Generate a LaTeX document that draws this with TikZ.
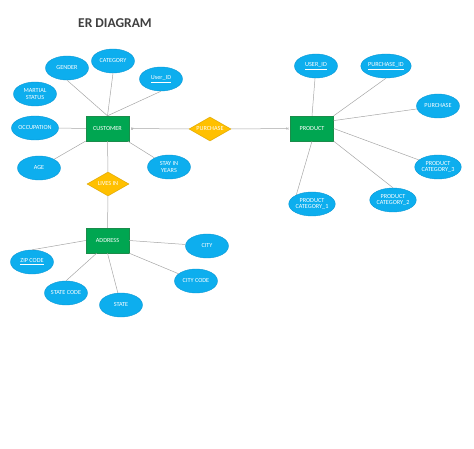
\documentclass[tikz,border=0pt]{standalone}
\usepackage{fontspec}
\setmainfont{Carlito}
\usetikzlibrary{
  positioning,
  arrows.meta,
  calc,
  shapes.geometric
}
\definecolor{attrblue}{HTML}{0DAEEE}
\definecolor{attredge}{HTML}{0A98D6}
\definecolor{entgreen}{HTML}{00A651}
\definecolor{entedge}{HTML}{1B8C4A}
\definecolor{relgold}{HTML}{FFC000}
\definecolor{reledge}{HTML}{D9A300}
\definecolor{linkgray}{HTML}{A6A6A6}
\definecolor{titlegray}{HTML}{3F3F3F}

\begin{document}
\begin{tikzpicture}[x=1pt, y=-1pt,
  attr/.style={ellipse, fill=attrblue, draw=attredge, line width=0.4pt,
    minimum width=43pt, minimum height=24pt, inner sep=0pt,
    text=white, font=\fontsize{6.2}{6.7}\selectfont, align=center},
  entity/.style={rectangle, fill=entgreen, draw=entedge, line width=0.4pt,
    minimum width=43pt, minimum height=25pt, inner sep=0pt,
    text=white, font=\fontsize{6.2}{6.7}\selectfont},
  relation/.style={diamond, fill=relgold, draw=reledge, line width=0.4pt,
    minimum width=42pt, minimum height=24pt, inner sep=0pt, aspect=1.75,
    text=white, font=\fontsize{6.2}{6.7}\selectfont},
  link/.style={draw=linkgray, line width=0.5pt},
  card/.style={link, -{Bar[width=2.5pt,sep=0.8pt]Bar[width=2.5pt]}, shorten >=2pt}
]
  \useasboundingbox (0,0) rectangle (474,449);

  % Title
  \node[font=\fontsize{13.5}{14}\selectfont\bfseries, text=titlegray] (title) at (115,23) {ER DIAGRAM};

  % Entities
  \node[entity] (cust) at (107.5,128.5) {CUSTOMER};
  \node[entity] (prod) at (312,128.5) {PRODUCT};
  \node[entity] (addr) at (107.5,240.5) {ADDRESS};

  % Relations
  \node[relation] (purch) at (210,129) {PURCHASE};
  \node[relation] (lives) at (108,184) {LIVES IN};

  % Customer attributes
  \node[attr] (gender) at (67,68) {GENDER};
  \node[attr] (categ) at (113,61) {CATEGORY};
  \node[attr] (userid) at (161,79) {\underline{User\_ID}};
  \node[attr] (marital) at (35,94) {MARTIAL\\STATUS};
  \node[attr] (occup) at (35,128) {OCCUPATION};
  \node[attr] (age) at (39,168) {AGE};
  \node[attr] (stay) at (169,167) {STAY IN\\YEARS};

  % Address attributes
  \node[attr] (zip) at (32,262) {\underline{ZIP CODE}};
  \node[attr] (statecode) at (66,293) {STATE CODE};
  \node[attr] (state) at (121,305) {STATE};
  \node[attr] (citycode) at (196,281) {CITY CODE};
  \node[attr] (city) at (207,246) {CITY};

  % Product attributes
  \node[attr] (puserid) at (316,66) {\underline{USER\_ID}};
  \node[attr] (purchid) at (386,66) {\underline{PURCHASE\_ID}};
  \node[attr] (purchase) at (438,106) {PURCHASE};
  \node[attr] (pcat3) at (438,167) {PRODUCT\\CATEGORY\_3};
  \node[attr] (pcat2) at (393,200) {PRODUCT\\CATEGORY\_2};
  \node[attr] (pcat1) at (312,204) {PRODUCT\\CATEGORY\_1};

  % Customer links
  \draw[link] (gender.south) -- (cust.north);
  \draw[link] (categ.south) -- (cust.north);
  \draw[link] (userid.south) -- (cust.north);
  \draw[link] (occup) -- (cust);
  \draw[link] (age) -- (cust);
  \draw[link] (stay) -- (cust);

  % Relation links
  \draw[card] (purch) -- (cust);
  \draw[card] (purch) -- (prod);
  \draw[link] (cust) -- (lives);
  \draw[link] (lives) -- (addr);

  % Address links
  \draw[link] (zip.north) -- (addr.west);
  \draw[link] (statecode.north) -- ($(addr.south west)!0.5!(addr.south)$);
  \draw[link] (state) -- (addr.south);
  \draw[link] (citycode) -- (addr.south east);
  \draw[link] (city) -- (addr.east);

  % Product links
  \draw[link] (puserid) -- (prod.north);
  \draw[link] (purchid.south) -- (prod.north east);
  \draw[link] (purchase) -- (prod.20);
  \draw[link] (pcat3) -- (prod.east);
  \draw[link] (pcat2.north) -- (prod.south east);
  \draw[link] (pcat1.150) -- (prod.south);
\end{tikzpicture}
\end{document}
